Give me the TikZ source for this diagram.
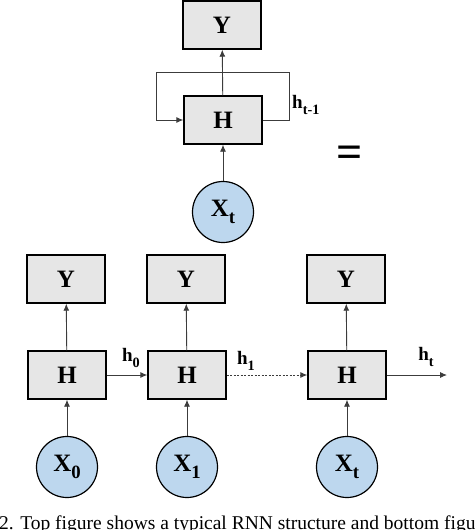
\documentclass[tikz,border=0pt]{standalone}
\usepackage{fontspec}
\setmainfont{Liberation Serif}
\usepackage{tikz}
\usetikzlibrary{arrows.meta}
\definecolor{boxgray}{RGB}{230,230,230}
\definecolor{cellblue}{RGB}{189,215,238}
\definecolor{linegray}{RGB}{60,60,60}
\newcommand{\sbs}[1]{\raisebox{-0.3em}{\fontsize{0.75em}{0.75em}\selectfont #1}}

\begin{document}
\begin{tikzpicture}[x=1pt,y=1pt]
\tikzstyle{every node}+=[inner sep=0pt]
\tikzstyle{cell}=[draw=black,line width=1.4pt,fill=boxgray,minimum width=78pt,minimum height=48pt,font=\fontsize{25}{25}\selectfont\bfseries]
\tikzstyle{inp}=[draw=black,line width=1.2pt,fill=cellblue,circle,minimum size=61pt,font=\fontsize{25}{25}\selectfont\bfseries]
\tikzstyle{conn}=[draw=linegray,line width=0.9pt,-{Latex[length=7pt,width=6pt]}]
\tikzstyle{lbl}=[font=\fontsize{19}{19}\selectfont\bfseries]
\useasboundingbox (0,0) rectangle (474,-530);
% folded network
\node [cell] (Yt) at (222,-25) {Y};
\node [cell] (Ht) at (223,-120) {H};
\node [inp] (Xt) at (223,-212) {X\sbs{t}};
\draw [conn] (Xt) -- (Ht);
\draw [conn] (Ht) -- (Yt);
\coordinate (loopR) at (289,-72);
\coordinate (loopL) at (156,-72);
\draw [conn] (Ht.east) -| (loopR) -- (loopL) |- (Ht.west);
\node [lbl,anchor=west] (hprev) at (292,-105) {h\sbs{t-1}};
\node [font=\fontsize{46}{46}\selectfont\bfseries] (eq) at (350,-157) {=};
% unrolled network
\node [cell] (Y0) at (66,-279) {Y};
\node [cell] (Y1) at (186,-279) {Y};
\node [cell] (Y2) at (346,-279) {Y};
\node [cell] (H0) at (67,-375) {H};
\node [cell] (H1) at (187,-375) {H};
\node [cell] (H2) at (347,-375) {H};
\node [inp] (X0) at (67,-467) {X\sbs{0}};
\node [inp] (X1) at (187,-467) {X\sbs{1}};
\node [inp] (X2) at (347,-467) {X\sbs{t}};
\draw [conn] (X0) -- (H0);
\draw [conn] (X1) -- (H1);
\draw [conn] (X2) -- (H2);
\draw [conn] (H0) -- (Y0);
\draw [conn] (H1) -- (Y1);
\draw [conn] (H2) -- (Y2);
\draw [conn] (H0) -- (H1);
\draw [conn,dash pattern=on 2pt off 1.5pt] (H1) -- (H2);
\coordinate (hend) at (447,-375);
\draw [conn] (H2) -- (hend);
\node [lbl] (h0) at (131,-358) {h\sbs{0}};
\node [lbl] (h1) at (246,-361) {h\sbs{1}};
\node [lbl] (ht) at (426,-357) {h\sbs{t}};
% caption
\node [anchor=base west,font=\fontsize{19.5}{19.5}\selectfont] (cap) at (-1,-529) {2. Top figure shows a typical RNN structure and bottom figu};
\end{tikzpicture}
\end{document}
